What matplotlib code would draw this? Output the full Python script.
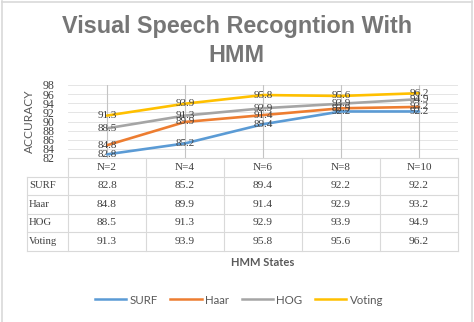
import matplotlib
matplotlib.use("Agg")
import matplotlib.pyplot as plt
from matplotlib import transforms
from matplotlib.patches import Rectangle
from matplotlib.lines import Line2D

# ---- data ----
states = ["N=2", "N=4", "N=6", "N=8", "N=10"]
surf = [82.8, 85.2, 89.4, 92.2, 92.2]
haar = [84.8, 89.9, 91.4, 92.9, 93.2]
hog = [88.5, 91.3, 92.9, 93.9, 94.9]
voting = [91.3, 93.9, 95.8, 95.6, 96.2]
series_names = ["SURF", "Haar", "HOG", "Voting"]
series_values = [surf, haar, hog, voting]
series_colors = ["#5B9BD5", "#ED7D31", "#A5A5A5", "#FFC000"]
y_ticks = [82, 84, 86, 88, 90, 92, 94, 96, 98]

W, H = 474, 322
DPI = 100
plt.rcParams["hatch.color"] = "#e3e3e3"
plt.rcParams["hatch.linewidth"] = 0.5

fig = plt.figure(figsize=(W / DPI, H / DPI), dpi=DPI)
fig.patch.set_facecolor("white")


def fx(px):
    return px / W


def fy(py):
    return 1 - py / H


# plot area in pixel terms
L, R, T, B = 68, 458, 85, 158
ax = fig.add_axes([fx(L), fy(B), fx(R - L), (B - T) / H])
ax.set_xlim(-0.5, len(states) - 0.5)
ax.set_ylim(82, 98)
for s in ax.spines.values():
    s.set_visible(False)

# patterned plot background
ax.add_patch(Rectangle((0, 0), 1, 1, transform=ax.transAxes, facecolor="white",
                       edgecolor="none", hatch="//////", zorder=0))
for yv in y_ticks:
    ax.axhline(yv, color="#e0e0e0", lw=0.6, zorder=0.5)
for i in range(len(states)):
    ax.axvline(i, color="#c4c4c4", lw=0.8, zorder=0.6)

ax.set_yticks(y_ticks)
ax.set_yticklabels([str(v) for v in y_ticks], family="Liberation Serif",
                   fontsize=8.6, color="#404040")
ax.tick_params(axis="y", length=0, pad=10)
ax.set_xticks([])

x = list(range(len(states)))
for vals, col in zip(series_values, series_colors):
    ax.plot(x, vals, color=col, lw=1.9, solid_capstyle="round", zorder=2)
for vals in series_values:
    for xi, v in zip(x, vals):
        ax.text(xi, v, f"{v:.1f}", ha="center", va="center", family="Liberation Serif",
                fontsize=8, color="#404040", zorder=3, clip_on=False)

# ---- data table under the plot ----
tr = transforms.blended_transform_factory(ax.transData, fig.transFigure)
grid_col = "#d9d9d9"
row_edges = [158, 176.5, 195, 213.5, 232, 250.5]
label_left = 27
# horizontal rules
fig.add_artist(Line2D([-0.5, len(states) - 0.5], [fy(row_edges[0])] * 2, transform=tr,
                      color=grid_col, lw=0.8))
for ry in row_edges[1:]:
    fig.add_artist(Line2D([fx(label_left), fx(R)], [fy(ry)] * 2, transform=fig.transFigure,
                          color=grid_col, lw=0.8))
# vertical rules
for i in range(len(states) + 1):
    fig.add_artist(Line2D([i - 0.5] * 2, [fy(row_edges[0]), fy(row_edges[-1])], transform=tr,
                          color=grid_col, lw=0.8))
fig.add_artist(Line2D([fx(label_left)] * 2, [fy(row_edges[1]), fy(row_edges[-1])],
                      transform=fig.transFigure, color=grid_col, lw=0.8))

cell_kw = dict(family="Liberation Serif", color="#404040", va="center")
for i, st in enumerate(states):
    yc = (row_edges[0] + row_edges[1]) / 2
    fig.text(i, fy(yc), st, transform=tr, ha="center", fontsize=8, **cell_kw)
for r, (name, vals) in enumerate(zip(series_names, series_values)):
    yc = (row_edges[r + 1] + row_edges[r + 2]) / 2
    fig.text(fx(label_left + 2), fy(yc), name, ha="left", fontsize=7.7, **cell_kw)
    for i, v in enumerate(vals):
        fig.text(i, fy(yc), f"{v:.1f}", transform=tr, ha="center", fontsize=8.2, **cell_kw)

# ---- titles and labels ----
title_kw = dict(ha="center", va="center", family="Liberation Sans", fontweight="bold",
                fontsize=16.8, color="#767676")
fig.text(fx(237), fy(27), "Visual Speech Recogntion With", **title_kw)
fig.text(fx(236), fy(55), "HMM", **title_kw)
fig.text(fx(29), fy(121), "ACCURACY", rotation=90, ha="center", va="center",
         family="Lato", fontsize=8.6, color="#595959")
fig.text(fx(263), fy(262), "HMM States", ha="center", va="center",
         family="Lato", fontweight="bold", fontsize=8, color="#595959")

# ---- legend ----
handles = [Line2D([], [], color=c, lw=1.8) for c in series_colors]
leg = fig.legend(handles, series_names, loc="center", bbox_to_anchor=(fx(239), fy(300)),
                 ncol=4, frameon=False, handlelength=2.7, handletextpad=0.3,
                 columnspacing=1.1, prop={"family": "Lato", "size": 8.3})
for t in leg.get_texts():
    t.set_color("#595959")

# outer chart border
for xs, ys in [([1.5, 1.5], [1, H]), ([1.5, 471.5], [1.5, 1.5]), ([471.5, 471.5], [1, H])]:
    fig.add_artist(Line2D([fx(v) for v in xs], [fy(v) for v in ys],
                          transform=fig.transFigure, color="#d9d9d9", lw=1.2))

fig.savefig("out.png", dpi=DPI)
